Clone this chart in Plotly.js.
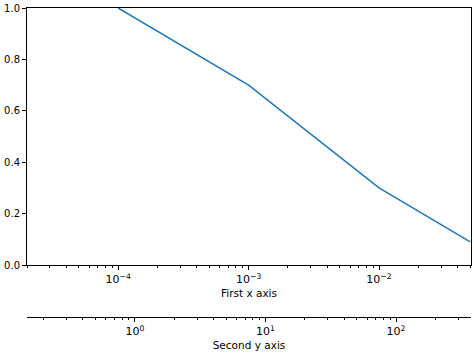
<!DOCTYPE html>
<html>
<head>
<script src="https://cdn.plot.ly/plotly-3.0.1.min.js"></script>
<style>body{margin:0;padding:0;background:#fff}</style>
</head>
<body>
<div id="chart" style="width:474px;height:355px"></div>
<script>
// Data
const xFirst = [1e-4, 1e-3, 1e-2, 5e-2];
const yValues = [1.0, 0.7, 0.3, 0.09];
const xRangeFirst = [2.0e-5, 0.0507];
const xRangeSecond = [0.149, 375];
const yTicks = [0.0, 0.2, 0.4, 0.6, 0.8, 1.0];
const firstTickVals = [1e-4, 1e-3, 1e-2];
const firstTickText = ['10<sup>\u22124</sup>', '10<sup>\u22123</sup>', '10<sup>\u22122</sup>'];
const secondTickVals = [1, 10, 100];
const secondTickText = ['10<sup>0</sup>', '10<sup>1</sup>', '10<sup>2</sup>'];

const font = {family: 'DejaVu Sans', size: 10, color: '#000'};
const titleFont = {family: 'DejaVu Sans', size: 10.5, color: '#000'};
const lg = v => v.map(Math.log10);

const traces = [
  {x: xFirst, y: yValues, type: 'scatter', mode: 'lines',
   line: {color: '#1f77b4', width: 1.5}, xaxis: 'x', yaxis: 'y', showlegend: false, hoverinfo: 'skip'},
  {x: xRangeSecond, y: [0.5, 0.5], type: 'scatter', mode: 'lines', opacity: 0,
   xaxis: 'x2', yaxis: 'y', showlegend: false, hoverinfo: 'skip'}
];

const axBase = {
  showgrid: false, zeroline: false, showline: true, linecolor: '#000', linewidth: 1,
  ticks: 'outside', ticklen: 4, tickwidth: 1, tickcolor: '#000', tickfont: font
};

const layout = {
  width: 474, height: 355,
  margin: {l: 27, r: 3, t: 8, b: 38},
  paper_bgcolor: '#fff', plot_bgcolor: '#fff',
  font: font,
  showlegend: false,
  xaxis: Object.assign({}, axBase, {
    type: 'log', range: lg(xRangeFirst), anchor: 'y', mirror: true,
    tickmode: 'array', tickvals: firstTickVals, ticktext: firstTickText,
    tickfont: {family: 'DejaVu Sans', size: 11, color: '#000'},
    minor: {ticks: 'outside', ticklen: 2, tickcolor: '#000', dtick: 'D1', showgrid: false},
    title: {text: 'First x axis', font: titleFont, standoff: 4}
  }),
  xaxis2: Object.assign({}, axBase, {
    type: 'log', range: lg(xRangeSecond), anchor: 'free', position: 0, overlaying: 'x',
    side: 'bottom', tickmode: 'array', tickvals: secondTickVals, ticktext: secondTickText,
    tickfont: {family: 'DejaVu Sans', size: 11, color: '#000'},
    minor: {ticks: 'outside', ticklen: 2, tickcolor: '#000', dtick: 'D1', showgrid: false},
    title: {text: 'Second y axis', font: titleFont, standoff: 4}
  }),
  yaxis: Object.assign({}, axBase, {
    range: [0, 1], domain: [0.1683, 1], mirror: true,
    tickvals: yTicks, tickformat: '.1f', anchor: 'x'
  })
};

Plotly.newPlot('chart', traces, layout, {displayModeBar: false, staticPlot: true});
</script>
</body>
</html>
